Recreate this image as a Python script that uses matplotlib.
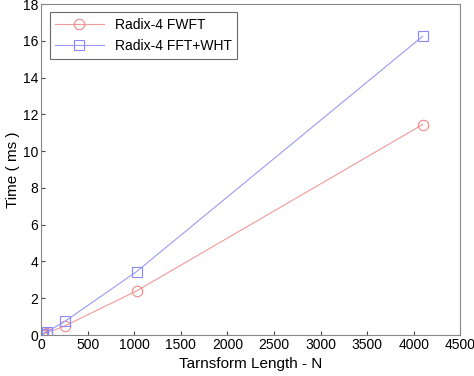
import matplotlib.pyplot as plt

plt.rcParams['font.family'] = ['Liberation Sans', 'DejaVu Sans']

# transform lengths and timings (ms)
n_len = [4, 16, 64, 256, 1024, 4096]
fwft = [0.02, 0.05, 0.12, 0.5, 2.4, 11.45]
fft_wht = [0.03, 0.07, 0.18, 0.75, 3.45, 16.25]

fig = plt.figure(figsize=(4.74, 3.76), dpi=100)
ax = fig.add_axes([0.087, 0.109, 0.884, 0.880])

ax.plot(n_len, fwft, color='#f29a9a', lw=0.8, marker='o', ms=7.5,
        mfc='none', mec='#f08a8a', mew=0.8, label='Radix-4 FWFT')
ax.plot(n_len, fft_wht, color='#9a9af2', lw=0.8, marker='s', ms=7.5,
        mfc='none', mec='#8a8af0', mew=0.8, label='Radix-4 FFT+WHT')

ax.set_xlim(0, 4500)
ax.set_ylim(0, 18)
ax.set_xticks(range(0, 4501, 500))
ax.set_yticks(range(0, 19, 2))
ax.tick_params(direction='in', length=3, labelsize=10, color='#444444', pad=2)
for s in ax.spines.values():
    s.set_color('#888888')
    s.set_linewidth(0.8)

ax.set_xlabel('Tarnsform Length - N', fontsize=11)
ax.set_ylabel('Time ( ms )', fontsize=11, labelpad=2)

leg = ax.legend(loc='upper left', fontsize=10, fancybox=False,
                edgecolor='#444444', borderaxespad=0.6, handlelength=3.5)
leg.get_frame().set_linewidth(0.8)

fig.savefig('out.png', dpi=100)
